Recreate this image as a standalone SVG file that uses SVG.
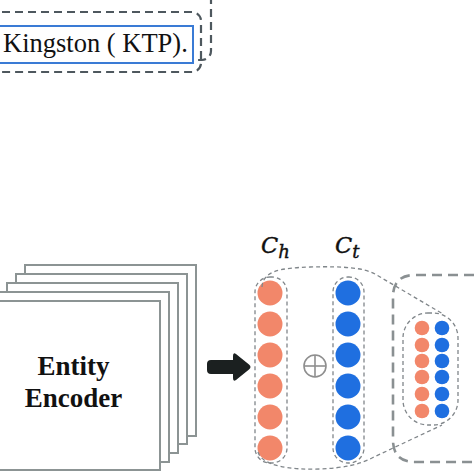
<svg xmlns="http://www.w3.org/2000/svg" width="474" height="474" viewBox="0 0 474 474">
<defs>
<style>
.page{fill:#fff;stroke:#8c9494;stroke-width:2}
.thin{fill:none;stroke:#80868a;stroke-width:1.3;stroke-dasharray:4 3}
.thick{fill:none;stroke:#8a9092;stroke-width:2.6;stroke-dasharray:10 6}
.topdash{fill:none;stroke:#4e585e;stroke-width:2.2;stroke-dasharray:8 5}
.o{fill:#f2876a}
.b{fill:#1f6fe0}
.serif{font-family:"Liberation Serif","Times New Roman",serif}
.math{font-family:"DejaVu Serif","Liberation Serif",serif;font-style:italic;fill:#111;stroke:#111;stroke-width:0.4}
</style>
</defs>
<rect width="474" height="474" fill="#fff"/>

<g id="sentence">
<rect class="topdash" x="-20" y="-20" width="231" height="80" rx="9"/>
<rect class="topdash" x="-20" y="12" width="221" height="60" rx="9"/>
<rect x="-5" y="26" width="198" height="37" fill="#fff" stroke="#3a7bd5" stroke-width="2"/>
<text class="serif" x="3" y="52" font-size="26.5" fill="#111">Kingston ( KTP).</text>
</g>

<g id="entity-encoder">
<rect class="page" x="25" y="265" width="171" height="171"/>
<rect class="page" x="16" y="274" width="171" height="170"/>
<rect class="page" x="7" y="283" width="171" height="170"/>
<rect class="page" x="-2" y="292" width="171" height="170"/>
<rect class="page" x="-11" y="301" width="171" height="169"/>
<text class="serif" x="73.5" y="375" font-size="27" font-weight="bold" text-anchor="middle" fill="#111">Entity</text>
<text class="serif" x="73.5" y="407" font-size="27" font-weight="bold" text-anchor="middle" fill="#111">Encoder</text>
</g>

<g id="arrow">
<path d="M211,360 L233,360 L233,356 Q233,352 236,354 L249,364.5 Q252,367 249,369.5 L236,380 Q233,382 233,378 L233,374 L211,374 Q207,374 207,370 L207,364 Q207,360 211,360 Z" fill="#1b2020"/>
</g>

<g id="ch">
<rect class="thin" x="255" y="277" width="32" height="186" rx="15"/>
<circle class="o" cx="270" cy="293" r="12.5"/>
<circle class="o" cx="270" cy="324" r="12.5"/>
<circle class="o" cx="270" cy="355" r="12.5"/>
<circle class="o" cx="270" cy="386" r="12.5"/>
<circle class="o" cx="270" cy="417" r="12.5"/>
<circle class="o" cx="270" cy="448" r="12.5"/>
<text class="math" x="261" y="253" font-size="22.5">C<tspan font-size="18" dy="5">h</tspan></text>
</g>

<g id="ct">
<rect class="thin" x="333" y="277" width="31" height="186" rx="15"/>
<circle class="b" cx="348" cy="293" r="12.5"/>
<circle class="b" cx="348" cy="324" r="12.5"/>
<circle class="b" cx="348" cy="355" r="12.5"/>
<circle class="b" cx="348" cy="386" r="12.5"/>
<circle class="b" cx="348" cy="417" r="12.5"/>
<circle class="b" cx="348" cy="448" r="12.5"/>
<text class="math" x="335" y="253" font-size="22.5">C<tspan font-size="18" dy="5">t</tspan></text>
</g>

<g id="oplus" fill="none" stroke="#8e8e8e" stroke-width="1.6">
<circle cx="315" cy="366" r="11"/>
<line x1="304" y1="366" x2="326" y2="366"/>
<line x1="315" y1="355" x2="315" y2="377"/>
</g>

<g id="pair">
<path class="thick" d="M474,275 L415,275 Q393,275 393,297 L393,440 Q393,462 415,462 L474,462"/>
<rect class="thin" x="403" y="313" width="55" height="112" rx="25"/>
<circle class="o" cx="422" cy="328" r="7.3"/>
<circle class="o" cx="422" cy="345" r="7.3"/>
<circle class="o" cx="422" cy="361" r="7.3"/>
<circle class="o" cx="422" cy="377" r="7.3"/>
<circle class="o" cx="422" cy="394" r="7.3"/>
<circle class="o" cx="422" cy="411" r="7.3"/>
<circle class="b" cx="442" cy="328" r="7.3"/>
<circle class="b" cx="442" cy="345" r="7.3"/>
<circle class="b" cx="442" cy="361" r="7.3"/>
<circle class="b" cx="442" cy="377" r="7.3"/>
<circle class="b" cx="442" cy="394" r="7.3"/>
<circle class="b" cx="442" cy="411" r="7.3"/>
</g>

<g id="connectors">
<path class="thin" d="M262,287 C263,271 280,268 310,267 C345,266 364,268 375,274 L443,314"/>
<path class="thin" d="M258,452 C262,466 290,470 320,469 C345,468 360,464 372,458 L442,425"/>
</g>
</svg>
